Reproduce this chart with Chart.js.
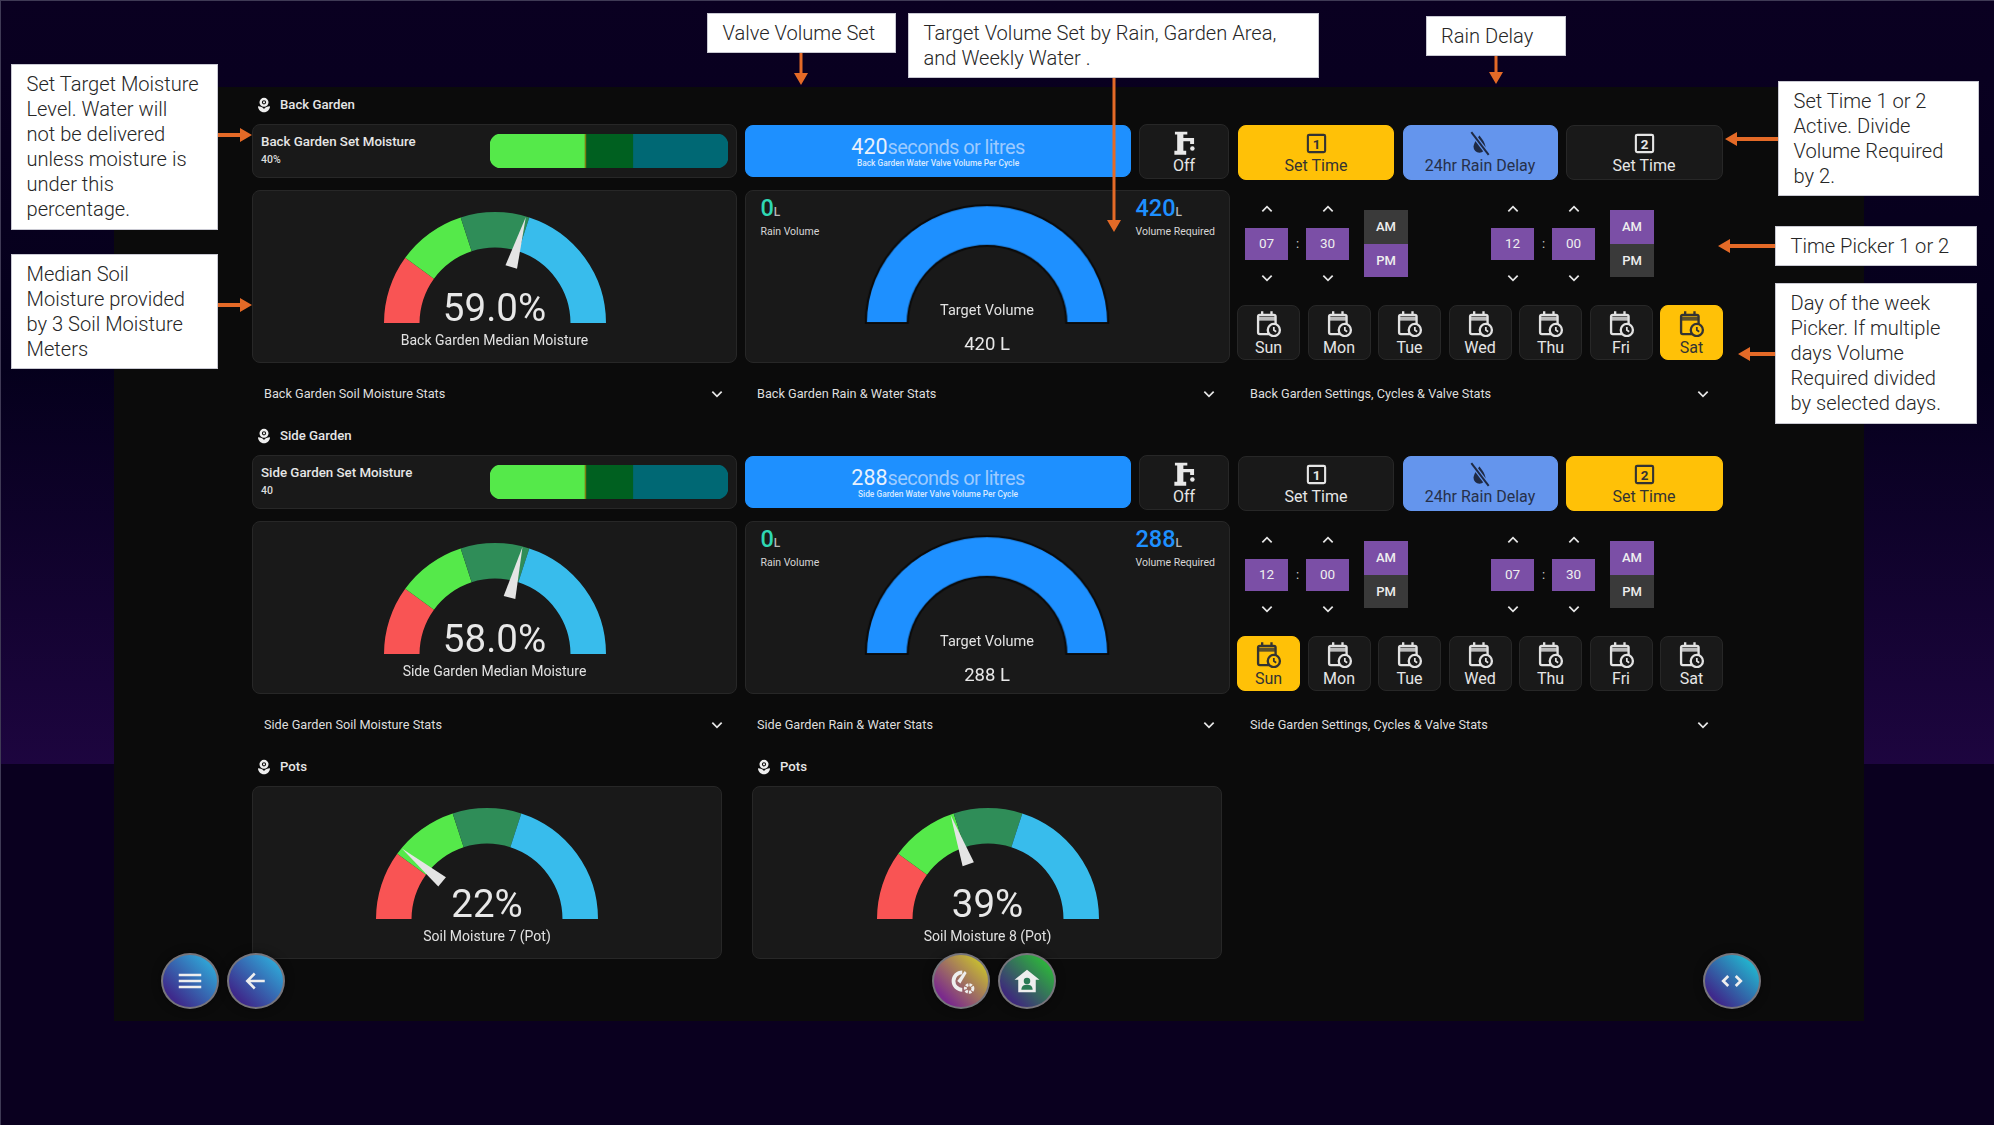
<!DOCTYPE html>
<html>
<head>
<meta charset="utf-8">
<title>Garden irrigation dashboard</title>
<script src="https://cdn.jsdelivr.net/npm/chart.js@4/dist/chart.umd.js"></script>
<style>
  html, body { margin: 0; padding: 0; width: 1994px; height: 1125px; overflow: hidden; background: #09001f; }
  body { position: relative; font-family: Roboto, sans-serif; color: #e6e6e6; }
  #page div, #page canvas, #page svg { position: absolute; }
  .card { background: #191919; border: 1px solid #272727; border-radius: 8px; box-sizing: border-box; }
  .t { white-space: nowrap; line-height: 1; }
  .callout { background: #fff; border: 1px solid #c9c9d2; box-sizing: border-box; color: #262626;
    font: 300 20.1px/25px Roboto, sans-serif; white-space: pre; padding: 7px 0 0 14.5px; }
  .round { border-radius: 50%; border: 2px solid #77757c; box-sizing: border-box; width: 58px; height: 56px; }
</style>
</head>
<body>
<div id="page"></div>
<script>
const bandSizes = [20, 20, 20, 40];
const bandColors = ['#f95454', '#55e94a', '#2f8d58', '#38bcec'];
const setMoistureBands = [40, 20, 40];
const setMoistureColors = ['#55e94a', '#006020', '#006874'];
const setMoistureValue = 40;

const gardenNames = ['Back Garden', 'Side Garden'];
const setMoistureLabels = ['40%', '40'];
const medianMoisture = [59.0, 58.0];
const rainVolumes = [0, 0];
const targetVolumes = [420, 288];
const requiredVolumes = [420, 288];
const activeTimer = [1, 2];
const timerOne = [['07', '30', 'PM'], ['12', '00', 'AM']];
const timerTwo = [['12', '00', 'AM'], ['07', '30', 'AM']];
const activeDay = ['Sat', 'Sun'];
const dayNames = ['Sun', 'Mon', 'Tue', 'Wed', 'Thu', 'Fri', 'Sat'];
const potLabels = ['Soil Moisture 7 (Pot)', 'Soil Moisture 8 (Pot)'];
const potMoisture = [22, 39];
const gaugeMax = 100;

const page = document.getElementById('page');

function box(x, y, w, h, cls, css) {
  const el = document.createElement('div');
  el.style.cssText = `left:${x}px;top:${y}px;width:${w}px;height:${h}px;${css || ''}`;
  if (cls) el.className = cls;
  page.append(el);
  return el;
}

function text(str, x, y, size, weight, color, align) {
  const el = document.createElement('div');
  const shift = align === 'left' ? '0' : '-50%';
  el.className = 't';
  el.style.cssText = `left:${x}px;top:${y - 1}px;font-size:${size}px;font-weight:${weight};color:${color};transform:translate(${shift},-50%)`;
  el.innerHTML = str;
  page.append(el);
  return el;
}

function icon(x, y, w, h, inner, viewBox) {
  const wrap = document.createElement('div');
  wrap.style.cssText = `left:${x - w / 2}px;top:${y - h / 2}px;width:${w}px;height:${h}px`;
  wrap.innerHTML = `<svg style="left:0;top:0" width="${w}" height="${h}" viewBox="${viewBox || '0 0 24 24'}">${inner}</svg>`;
  page.append(wrap);
}

function chevron(x, y, up, color) {
  const d = up ? 'M3 11 L9 5 L15 11' : 'M3 5 L9 11 L15 5';
  icon(x, y, 14, 14, `<path d="${d}" fill="none" stroke="${color || '#e6e6e6'}" stroke-width="2.2"/>`, '0 0 18 16');
}

function flowerIcon(x, y) {
  icon(x, y, 16, 18, `<circle cx="12" cy="8" r="5" fill="none" stroke="#eee" stroke-width="3.6"/><circle cx="12" cy="8" r="1.6" fill="#eee"/>
    <path d="M3 14c4 0 7 1.5 9 4 2-2.5 5-4 9-4 0 5-4 9-9 9s-9-4-9-9z" fill="#eee"/>`);
}

function calendarIcon(x, y, color, bg) {
  icon(x, y, 28, 28, `<rect x="3.5" y="5" width="15" height="16.5" rx="1.5" fill="none" stroke="${color}" stroke-width="2"/>
    <path d="M3.5 6.5h15V10h-15z" fill="${color}" opacity=".8"/><path d="M7 2v4M15 2v4" stroke="${color}" stroke-width="2"/>
    <circle cx="17" cy="18" r="5.2" fill="${bg}" stroke="${color}" stroke-width="2"/>
    <path d="M17 15.5V18l2 1.5" fill="none" stroke="${color}" stroke-width="1.5"/>`);
}

function numberIcon(x, y, num, color) {
  icon(x, y, 23, 23, `<rect x="3" y="3" width="18" height="18" rx="1.5" fill="none" stroke="${color}" stroke-width="2.2"/>
    <text x="12" y="17.5" text-anchor="middle" font-family="Roboto" font-weight="700" font-size="14" fill="${color}">${num}</text>`);
}

function faucetIcon(x, y) {
  icon(x, y, 27, 27, `<path d="M3.5 1.5h11V4H11v3h9.5v5.500H17V10h-6v8.500h2.500V22H3v-3.500h2.500V4h-2z" fill="#e8e8e8"/><circle cx="19" cy="16.500" r="2" fill="#e8e8e8"/>`);
}

function rainOffIcon(x, y, color) {
  icon(x, y, 26, 30, `<path d="M11.5 5c0 0-5.500 6.500-5.500 10.500a5.500 5.500 0 0 0 11 0c0-4-5.500-10.500-5.500-10.500z" fill="${color}"/>
    <path d="M4 2L20 23" stroke="#6495ed" stroke-width="4"/><path d="M4 2L20 23" stroke="${color}" stroke-width="1.8"/>`);
}

function arrowRight(x1, x2, y) {
  const left = Math.min(x1, x2), w = Math.abs(x2 - x1), toRight = x2 > x1;
  const line = toRight ? `M0 5 H${w - 12} V0 L${w} 7 L${w - 12} 14 V9 H0z` : `M${w} 5 H12 V0 L0 7 L12 14 V9 H${w}z`;
  const wrap = box(left, y - 7, w, 14);
  wrap.innerHTML = `<svg style="left:0;top:0" width="${w}" height="14"><path d="${line}" fill="#e46a27"/></svg>`;
}

function arrowDown(x, y1, y2) {
  const h = y2 - y1;
  const wrap = box(x - 7, y1, 14, h);
  wrap.innerHTML = `<svg style="left:0;top:0" width="14" height="${h}"><path d="M5.5 0 H8.5 V${h - 12} H14 L7 ${h} L0 ${h - 12} H5.5z" fill="#e46a27"/></svg>`;
}

function callout(x, y, w, h, str) {
  const el = box(x, y, w, h, 'callout');
  el.textContent = str;
}

// needle is placed with the same angle maths as the doughnut arcs
const needlePlugin = {
  id: 'needle',
  afterDatasetsDraw(chart, args, opts) {
    if (opts.value === undefined) return;
    const arc = chart.getDatasetMeta(0).data[0];
    const ctx = chart.ctx;
    const angle = Math.PI + Math.PI * opts.value / opts.max;
    const cos = Math.cos(angle), sin = Math.sin(angle);
    const tip = arc.outerRadius - 0.5, base = arc.outerRadius * 0.525, half = 6;
    ctx.save();
    ctx.translate(arc.x, arc.y);
    ctx.beginPath();
    ctx.moveTo(cos * tip, sin * tip);
    ctx.lineTo(cos * base - sin * half, sin * base + cos * half);
    ctx.lineTo(cos * base + sin * half, sin * base - cos * half);
    ctx.closePath();
    ctx.fillStyle = '#e4e4e4';
    ctx.fill();
    ctx.restore();
  }
};

function addCanvas(x, y, w, h, extra) {
  const canvas = document.createElement('canvas');
  canvas.width = w;
  canvas.height = h;
  canvas.style.cssText = `left:${x}px;top:${y}px;width:${w}px;height:${h}px;${extra || ''}`;
  page.append(canvas);
  return canvas;
}

function moistureGauge(cx, cy, value) {
  const r = 111;
  new Chart(addCanvas(cx - r, cy - r, r * 2, r), {
    type: 'doughnut',
    data: { labels: ['Low', 'OK', 'Target', 'Wet'], datasets: [{ data: bandSizes, backgroundColor: bandColors, borderWidth: 0 }] },
    options: {
      responsive: false, animation: false, rotation: -90, circumference: 180, cutout: '68%',
      plugins: { legend: { display: false }, tooltip: { enabled: false }, needle: { value, max: gaugeMax } }
    },
    plugins: [needlePlugin]
  });
}

function volumeGauge(cx, cy, target, required) {
  const r = 121;
  // the original arc is a touch wider than it is tall
  const stretch = `transform-origin:50% ${r}px;transform:scale(1.018,.99)`;
  new Chart(addCanvas(cx - r, cy - r, r * 2, r + 3, stretch), {
    type: 'doughnut',
    data: { labels: ['Target', 'Left'], datasets: [{ data: [target, required - target], backgroundColor: ['#1e90ff', '#333'], borderColor: '#0a0a0a', borderWidth: 2, borderJoinStyle: 'miter' }] },
    options: {
      responsive: false, animation: false, rotation: -90, circumference: 180, cutout: '65.5%',
      layout: { padding: { bottom: 3 } },
      plugins: { legend: { display: false }, tooltip: { enabled: false } }
    }
  });
}

const setMarkPlugin = {
  id: 'setMark',
  afterDatasetsDraw(chart) {
    const xPos = chart.scales.x.getPixelForValue(setMoistureValue);
    chart.ctx.fillStyle = '#7f7a12';
    chart.ctx.fillRect(xPos - 0.5, 0, 1.5, chart.height);
  }
};

function setMoistureBar(x, y, w, h) {
  const last = setMoistureBands.length - 1;
  new Chart(addCanvas(x, y, w, h), {
    type: 'bar',
    data: {
      labels: ['Set Moisture'],
      datasets: setMoistureBands.map((band, i) => ({
        data: [band],
        backgroundColor: setMoistureColors[i],
        barPercentage: 1,
        categoryPercentage: 1,
        borderSkipped: false,
        borderRadius: i === 0 ? { topLeft: 11, bottomLeft: 11 } : i === last ? { topRight: 11, bottomRight: 11 } : 0
      }))
    },
    options: {
      indexAxis: 'y', responsive: false, animation: false,
      scales: { x: { stacked: true, display: false, min: 0, max: gaugeMax }, y: { stacked: true, display: false } },
      plugins: { legend: { display: false }, tooltip: { enabled: false } }
    },
    plugins: [setMarkPlugin]
  });
}

function topButton(x, y, w, h, on, bg) {
  const css = on ? `background:${bg};border:1px solid ${bg}` : '';
  return box(x, y, w, h, 'card', css);
}

function timePicker(left, ampmLeft, y, time) {
  const [hh, mm, half] = time;
  [[left, hh], [left + 61, mm]].forEach(([x, val]) => {
    box(x, y + 227.5, 43, 32, '', 'background:#7b4fa6');
    text(val, x + 21.5, y + 244.5, 13.5, 400, '#eee');
    chevron(x + 21.5, y + 209, true);
    chevron(x + 21.5, y + 278, false);
  });
  text(':', left + 52.5, y + 244, 13, 400, '#cfcfcf');
  box(ampmLeft, y + 210, 44, 33.5, '', `background:${half === 'AM' ? '#7b4fa6' : '#3a3a3a'}`);
  box(ampmLeft, y + 243.5, 44, 33.5, '', `background:${half === 'PM' ? '#7b4fa6' : '#3a3a3a'}`);
  text('AM', ampmLeft + 22, y + 227, 13, 500, '#eee');
  text('PM', ampmLeft + 22, y + 260.5, 13, 500, '#eee');
}

function gardenSection(i, y) {
  const name = gardenNames[i];
  flowerIcon(264, y + 105);
  text(name, 280, y + 106, 13.2, 500, '#e6e6e6', 'left');

  box(252, y + 124, 485, 53.5, 'card');
  text(`${name} Set Moisture`, 261, y + 143, 13.3, 500, '#e6e6e6', 'left');
  text(setMoistureLabels[i], 261, y + 161, 10.5, 500, '#dcdcdc', 'left');
  setMoistureBar(489.5, y + 134, 238, 34);

  box(252, y + 190, 485, 173, 'card');
  moistureGauge(494.5, y + 323, medianMoisture[i]);
  text(`${medianMoisture[i].toFixed(1)}%`, 494.5, y + 309, 38.5, 400, '#e8e8e8');
  text(`${name} Median Moisture`, 494.5, y + 340.5, 14, 400, '#e2e2e2');

  box(745, y + 125, 385.5, 52, 'card', 'background:#1e90ff;border:1px solid #1e90ff');
  text(`<span style="color:#e8f1fc;font-size:21.5px">${targetVolumes[i]}</span><span style="color:#9ccaff;letter-spacing:-.6px">seconds or litres</span>`, 938, y + 147.5, 20, 400, '#fff');
  text(`${name} Water Valve Volume Per Cycle`, 938, y + 163.5, 8.4, 500, '#d8e9ff');

  box(1139, y + 124, 90, 55, 'card');
  faucetIcon(1184.5, y + 143);
  text('Off', 1184, y + 167, 16, 400, '#e6e6e6');

  box(745, y + 190, 485, 173, 'card');
  text(`<span style="font-weight:500;font-size:23.5px;color:#2fd8b4">${rainVolumes[i]}</span><span style="font-size:12px;color:#b8b8b8">L</span>`, 760.5, y + 210, 23, 500, '#fff', 'left');
  text('Rain Volume', 760.5, y + 233, 10.5, 400, '#d6d6d6', 'left');
  text(`<span style="font-weight:500;font-size:23.5px;color:#1e90ff">${requiredVolumes[i]}</span><span style="font-size:12px;color:#b8b8b8">L</span>`, 1135.5, y + 210, 23, 500, '#fff', 'left');
  text('Volume Required', 1135.5, y + 233, 10.5, 400, '#d6d6d6', 'left');
  volumeGauge(987, y + 324, targetVolumes[i], requiredVolumes[i]);
  text('Target Volume', 987, y + 312, 14.5, 400, '#e2e2e2');
  text(`${targetVolumes[i]} L`, 987, y + 344.5, 18.5, 400, '#e8e8e8');

  const oneOn = activeTimer[i] === 1, twoOn = activeTimer[i] === 2;
  topButton(1238, y + 125, 156, 55, oneOn, '#ffc107');
  numberIcon(1316, y + 143, 1, oneOn ? '#333' : '#e6e6e6');
  text('Set Time', 1316, y + 167, 16, 400, oneOn ? '#333' : '#e6e6e6');
  topButton(1402.5, y + 125, 155, 55, true, '#6495ed');
  rainOffIcon(1480, y + 143, '#1f2a44');
  text('24hr Rain Delay', 1480, y + 167, 16, 400, '#26304a');
  topButton(1565.5, y + 125, 157, 55, twoOn, '#ffc107');
  numberIcon(1644, y + 143, 2, twoOn ? '#333' : '#e6e6e6');
  text('Set Time', 1644, y + 167, 16, 400, twoOn ? '#333' : '#e6e6e6');

  timePicker(1245, 1364, y, timerOne[i]);
  timePicker(1491, 1610, y, timerTwo[i]);

  dayNames.forEach((day, d) => {
    const x = 1237 + d * 70.5;
    const on = activeDay[i] === day;
    box(x, y + 305, 63, 55, 'card', on ? 'background:#ffc107;border:1px solid #ffc107' : '');
    calendarIcon(x + 31, y + 323, on ? '#333' : '#e2e2e2', on ? '#ffc107' : '#191919');
    text(day, x + 31.5, y + 349, 16, 400, on ? '#333' : '#e6e6e6');
  });

  const stats = [[264, 717, 'Soil Moisture Stats'], [757, 1209, 'Rain &amp; Water Stats'], [1250, 1703, 'Settings, Cycles &amp; Valve Stats']];
  stats.forEach(([tx, cx, label]) => {
    text(`${name} ${label}`, tx, y + 395, 12.7, 400, '#dedede', 'left');
    chevron(cx, y + 394, false);
  });
}

function potCard(i, x, cx) {
  flowerIcon(x + 12, 767);
  text('Pots', x + 28, 768, 13.2, 500, '#e6e6e6', 'left');
  box(x, 786, 470, 173, 'card');
  moistureGauge(cx, 919, potMoisture[i]);
  text(`${potMoisture[i]}%`, cx, 905, 38.5, 400, '#e8e8e8');
  text(potLabels[i], cx, 936.5, 14, 400, '#e2e2e2');
}

function roundButton(cx, cy, from, to, inner) {
  box(cx - 29, cy - 28, 58, 56, 'round', `background:linear-gradient(45deg,${from} 18%,${to} 88%);box-shadow:0 0 8px rgba(0,0,0,.5)`);
  icon(cx, cy, 30, 30, inner);
}

// backdrop
box(0, 0, 1994, 764, '', 'background:linear-gradient(180deg,#0a0021 0%,#05001c 48%,#1d053f 100%)');
box(0, 764, 1994, 361, '', 'background:#0a001f');
box(114, 87, 1750, 934, '', 'background:#0b0b0b');
box(0, 0, 1994, 1125, '', 'box-sizing:border-box;border:1px solid #3f3a55;border-width:1px 0 0 1px');

gardenSection(0, 0);
gardenSection(1, 331);
potCard(0, 252, 487);
potCard(1, 752, 987.5);

roundButton(190, 981, '#3e2a8c', '#2fa8d8', '<path d="M3 7.2h18M3 12h18M3 16.8h18" stroke="#eee" stroke-width="1.9"/>');
roundButton(256, 981, '#3e2a8c', '#2fa8d8', '<path d="M19 12H5M11 6l-6 6 6 6" fill="none" stroke="#eee" stroke-width="2"/>');
roundButton(960.5, 981, '#7b2a8c', '#c9c02f', '<path d="M13 3.5a8.5 8.5 0 1 0 0 17l0-3a5.5 5.5 0 1 1 0-11z" fill="#eee"/><path d="M9 12L15 4l1.5 1.5L11.5 14z" fill="#eee"/><circle cx="18.5" cy="18" r="3" fill="none" stroke="#eee" stroke-width="2.4" stroke-dasharray="2 .8"/>');
roundButton(1026.5, 981, '#3e2a7c', '#2db83a', '<path d="M12 3L2 11h3v10h14V11h3z" fill="#eee"/><circle cx="12" cy="12" r="2.6" fill="#2a7a55"/><path d="M7.5 19c0-3 2-4 4.5-4s4.500 1 4.500 4z" fill="#2a7a55"/>');
roundButton(1732, 981, '#3e2a8c', '#22b8d0', '<path d="M9 8l-4 4 4 4M15 8l4 4-4 4" fill="none" stroke="#eee" stroke-width="2.2"/>');

// annotations
callout(11, 64, 207, 166, 'Set Target Moisture\nLevel. Water will\nnot be delivered\nunless moisture is\nunder this\npercentage.');
callout(11, 254, 207, 115, 'Median Soil\nMoisture provided\nby 3 Soil Moisture\nMeters');
callout(707, 13, 189, 40, 'Valve Volume Set');
callout(908, 12.5, 411, 65.5, 'Target Volume Set by Rain, Garden Area,\nand Weekly Water .');
callout(1425.5, 16, 140, 40, 'Rain Delay');
callout(1778, 81, 201, 115, 'Set Time 1 or 2\nActive. Divide\nVolume Required\nby 2.');
callout(1775, 226, 202, 40, 'Time Picker 1 or 2');
callout(1775, 283, 202, 141, 'Day of the week\nPicker. If multiple\ndays Volume\nRequired divided\nby selected days.');

arrowRight(218, 252, 135);
arrowRight(218, 252, 304.5);
arrowDown(801, 53, 85);
arrowDown(1113.5, 78, 232);
arrowDown(1495.5, 56, 84);
arrowRight(1778, 1724.5, 138.5);
arrowRight(1775, 1717.5, 245.5);
arrowRight(1775, 1738, 353.5);
</script>
</body>
</html>
